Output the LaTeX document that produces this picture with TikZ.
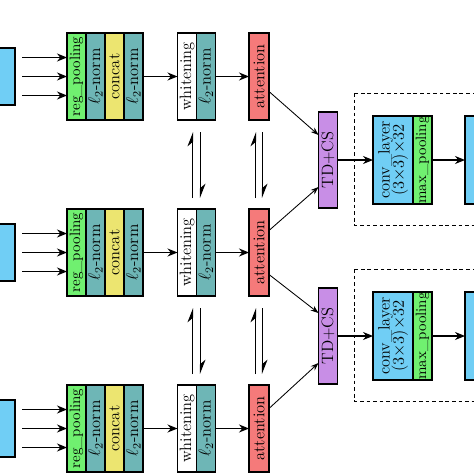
\documentclass[tikz,border=0pt]{standalone}
\usepackage{amsmath}
\usepackage{graphicx}
\usetikzlibrary{arrows.meta, positioning, calc}

\definecolor{inblue}{RGB}{112,206,245}
\definecolor{pgreen}{RGB}{112,240,112}
\definecolor{pteal}{RGB}{110,182,182}
\definecolor{pyellow}{RGB}{236,229,112}
\definecolor{pred}{RGB}{245,122,122}
\definecolor{ppurple}{RGB}{200,142,230}

\tikzset{
  blk/.style={draw=black, line width=0.9pt, inner sep=0pt, outer sep=0pt,
    minimum width=13.3pt, minimum height=60.9pt, font=\fontsize{11.5}{13}\selectfont},
  poolblk/.style={blk, font=\fontsize{10.5}{12}\selectfont},
  tallblk/.style={blk, minimum height=61.6pt},
  bigarr/.style={line width=0.8pt, -{Stealth[length=7pt, width=5.6pt]}},
  thinarr/.style={line width=0.6pt, -{Stealth[length=5.5pt, width=4pt]}},
  harpup/.style={line width=0.8pt, -{Stealth[left, length=9pt, width=7pt]}},
  dashbox/.style={line width=0.6pt, dash pattern=on 2.6pt off 2pt},
}

\begin{document}
\begin{tikzpicture}[x=0.7pt, y=-0.7pt]
  \clip (0,0) rectangle (474,474);

  % three feature branches
  \foreach \r/\y in {1/76.5, 2/252.5, 3/428.5}{
    \node[blk, fill=inblue, minimum width=28pt, minimum height=39.9pt] (in\r) at (-5,\y) {};
    \node[poolblk, fill=pgreen] (pool\r) at (76.5,\y) {\rotatebox{90}{reg\_pooling}};
    \node[blk, fill=pteal, right=0pt of pool\r] (nrma\r) {\rotatebox{90}{$\ell_2$-norm}};
    \node[blk, fill=pyellow, right=0pt of nrma\r] (cat\r) {\rotatebox{90}{concat}};
    \node[blk, fill=pteal, right=0pt of cat\r] (nrmb\r) {\rotatebox{90}{$\ell_2$-norm}};
    \node[blk, fill=white] (wht\r) at (187,\y) {\rotatebox{90}{whitening}};
    \node[blk, fill=pteal, right=0pt of wht\r] (nrmc\r) {\rotatebox{90}{$\ell_2$-norm}};
    \node[blk, fill=pred, minimum width=14pt] (att\r) at (259,\y) {\rotatebox{90}{attention}};
    \foreach \d in {-19,0,19}
      \draw[bigarr] ($(in\r.east)+(7,\d)$) -- ($(pool\r.west)+(0,\d)$);
    \draw[bigarr] (nrmb\r) -- (wht\r);
    \draw[bigarr] (nrmc\r) -- (att\r);
  }

  % exchange between branches
  \foreach \a/\b in {1/2, 2/3}{
    \draw[harpup] ($(wht\b.north east)+(-4,-11)$) -- ($(wht\a.south east)+(-4,12)$);
    \draw[harpup] ($(wht\a.south east)+(4,12)$) -- ($(wht\b.north east)+(4,-11)$);
    \draw[harpup] ($(att\b.north)+(-3.5,-11)$) -- ($(att\a.south)+(-3.5,12)$);
    \draw[harpup] ($(att\a.south)+(3.5,12)$) -- ($(att\b.north)+(3.5,-11)$);
  }

  % fusion and conv stages
  \foreach \k/\y in {1/160, 2/336}{
    \node[blk, fill=ppurple, minimum height=67.2pt] (td\k) at (328,\y) {\rotatebox{90}{TD+CS}};
    \draw[dashbox] (354,\y-67) rectangle (500,\y+65);
    \node[tallblk, fill=inblue, minimum width=28pt] (conv\k) at (393,\y)
      {\rotatebox{90}{\begin{tabular}{@{}c@{}}conv\_layer\\[-3pt](3$\times$3)$\times$32\end{tabular}}};
    \node[tallblk, poolblk, minimum height=61.6pt, fill=pgreen, right=0pt of conv\k] (mp\k)
      {\rotatebox{90}{max\_pooling}};
    \node[tallblk, fill=inblue, minimum width=28pt] (nxt\k) at (485,\y) {};
    \draw[bigarr] (td\k) -- (conv\k);
    \draw[bigarr] (mp\k) -- (nxt\k);
  }

  \draw[thinarr] ($(att1.east)+(0,15)$) -- ($(td1.west)+(0,-25)$);
  \draw[thinarr] ($(att2.east)+(0,-22)$) -- ($(td1.west)+(0,27)$);
  \draw[thinarr] ($(att2.east)+(0,22)$) -- ($(td2.west)+(0,-23)$);
  \draw[thinarr] ($(att3.east)+(0,-20)$) -- ($(td2.west)+(0,27)$);
\end{tikzpicture}
\end{document}
